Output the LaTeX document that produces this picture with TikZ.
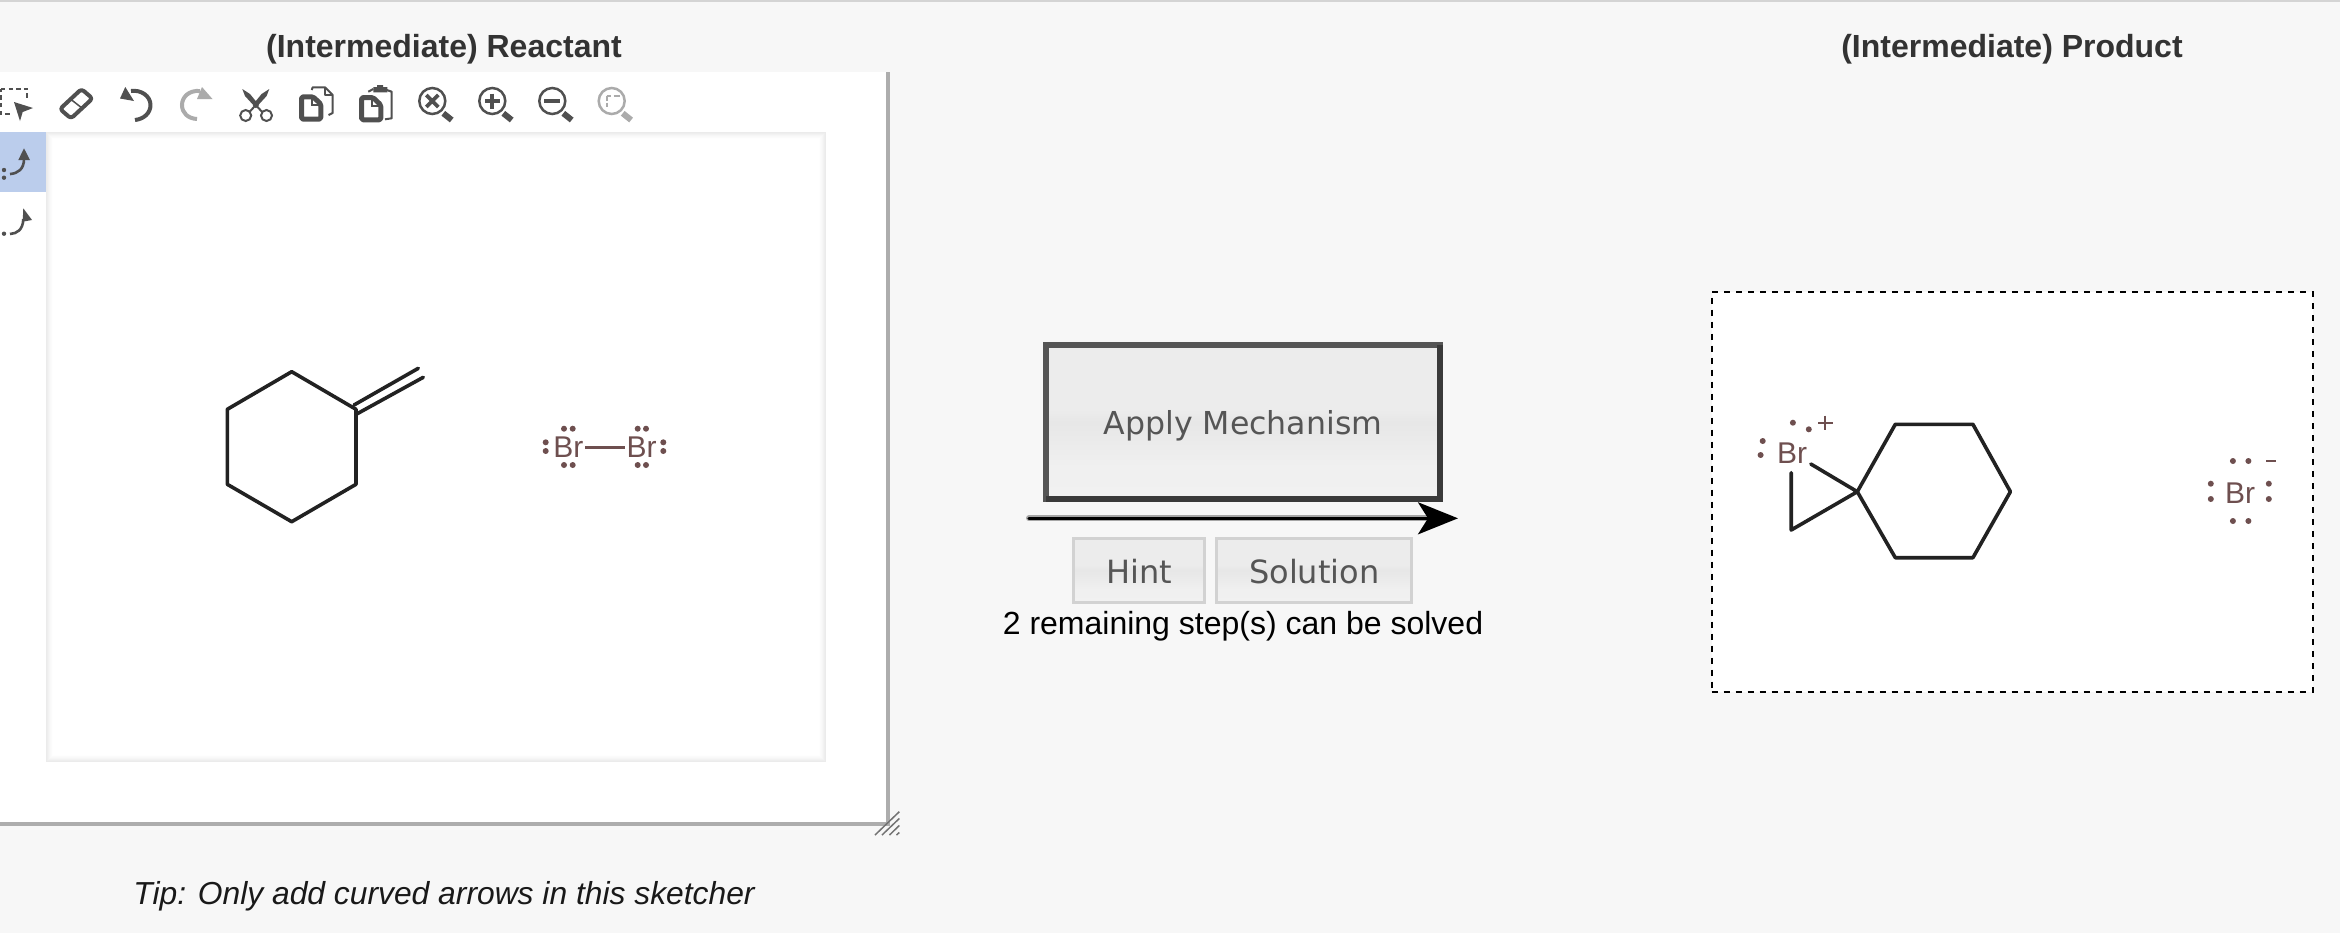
\documentclass[tikz,border=0pt]{standalone}
\usepackage{fontspec}
\setmainfont{Liberation Sans}
\newfontfamily\vfont{DejaVu Sans}
\usetikzlibrary{arrows.meta}
\definecolor{pagebg}{HTML}{F7F7F7}
\definecolor{topline}{HTML}{D4D4D4}
\definecolor{titlec}{HTML}{333333}
\definecolor{panelb}{HTML}{ADADAD}
\definecolor{icon}{HTML}{505050}
\definecolor{icong}{HTML}{ABABAB}
\definecolor{sel}{HTML}{BBCDEC}
\definecolor{brc}{HTML}{6E4F4F}
\definecolor{bond}{HTML}{222222}
\definecolor{btnt}{HTML}{555555}
\definecolor{btnl}{HTML}{555555}
\definecolor{btnd}{HTML}{3A3A3A}
\definecolor{btnb}{HTML}{D2D2D2}
\pgfdeclareverticalshading{btnshade}{100bp}{
 color(0bp)=(black!5.5); color(25bp)=(black!5.5); color(36bp)=(black!6); color(50bp)=(black!9.5); color(54bp)=(black!7.5); color(100bp)=(black!7.5)}
\tikzset{
 x=0.5pt,y=-0.5pt,
 tx/.style={inner sep=0pt,outer sep=0pt,anchor=base,font=\fontsize{16}{18}\selectfont},
 titlet/.style={tx,text=titlec,font=\fontsize{16}{18}\selectfont\bfseries},
 btn/.style={shade,shading=btnshade,draw=btnb,line width=1.5pt,outer sep=0pt,inner sep=0pt,text=btnt},
 btnmain/.style={shade,shading=btnshade,draw=btnl,line width=2.75pt,outer sep=0pt,inner sep=0pt},
 bondl/.style={draw=bond,line width=1.8pt,line cap=round,line join=round},
 brl/.style={text=brc,inner sep=1pt,outer sep=0pt,font=\fontsize{15}{17}\selectfont},
 ic/.style={draw=icon,line width=2pt,line join=round},
 curv/.style={draw=icon,line width=1.3pt},
 pageic/.style={draw=icon,line width=2.5pt,fill=white,line join=round,rounded corners=0.8pt},
 thinic/.style={draw=icon,line width=1pt,line join=round},
}
\newcommand{\lensicon}[3]{%
 \begin{scope}[shift={(#1,101)}]
  \draw[draw=#2,line width=1.25pt] (0,0) circle (13);
  \draw[draw=#2,line width=3pt] (11,12.3) -- (19.4,19);
  #3
 \end{scope}}
\begin{document}
\begin{tikzpicture}
\useasboundingbox (0,0) rectangle (2340,933);
\fill[pagebg] (0,0) rectangle (2340,933);
\draw[topline,line width=1pt] (0,0.5) -- (2340,0.5);

% titles
\node[titlet] (t1) at (444,57) {(Intermediate) Reactant};
\node[titlet] (t2) at (2012,57) {(Intermediate) Product};
\node[tx,font=\fontsize{15.9}{18}\selectfont\itshape,text=black!90] (tip) at (444,904.5) {Tip: Only add curved arrows in this sketcher};

% sketcher panel
\fill[white] (0,72) rectangle (886,822);
\fill[panelb] (886,72) rectangle (890,826);
\fill[panelb] (0,822) rectangle (890,826);
% resize handle
\foreach \a/\b/\c/\d in {875/835/899.3/811.7, 882/835/899.3/818.5, 889.5/835/899.3/825.5, 896.5/835/899.3/832.5}
  \draw[draw=black!55,line width=0.75pt] (\a,\b) -- (\c,\d);
% canvas with soft inner edge
\fill[black!8] (46,132) rectangle (826,762);
\foreach \i/\s in {1/6.5,2/5,3/3.5,4/2.5,5/1.5,6/0.5,7/0}
  \fill[black!\s] (46+\i,132+\i) rectangle (826-\i,762-\i);

% left tools
\fill[sel] (0,132) rectangle (46,192);
\fill[icon] (4,170) circle (2.2) (4,177.7) circle (2.2) (4,233.7) circle (2.2);
\draw[curv] (10,174) .. controls (18,173.5) and (24,169) .. (24,159);
\fill[icon] (18.3,160) -- (30,160) -- (24,148.3) -- cycle;
\draw[curv] (10,234) .. controls (17,233.5) and (23,230) .. (23.3,219);
\fill[icon] (23.3,208.3) -- (32,220) -- (22.7,221.7) -- cycle;

% toolbar: select
\draw[draw=icon,line width=1pt,dash pattern=on 2.2pt off 1.6pt] (1,89) -- (27,89) -- (27,114) -- (1,114) -- cycle;
\fill[white] (12,100) rectangle (36,124);
\fill[icon] (14,102) -- (33,108) -- (22.7,112) -- (20,121) -- cycle;
% eraser
\draw[ic,rounded corners=1.5pt] (81.5,89) -- (92.5,98.5) -- (71,118.5) -- (60,109) -- cycle;
\draw[draw=icon,line width=0.75pt] (71.7,100) -- (82.3,108.3);
% undo
\draw[ic] (131,91) .. controls (141,89.5) and (150.5,96) .. (150.5,105) .. controls (150.5,113) and (144,119) .. (135,120);
\fill[icon] (120,98.5) -- (125.3,87) -- (134,101) -- cycle;
% redo
\draw[draw=icong,line width=2pt] (200,91) .. controls (189,90) and (182,97) .. (182,105) .. controls (182,113) and (188,118.5) .. (197,119);
\fill[icong] (202,87) -- (212.5,99) -- (197,99) -- cycle;
% scissors
\fill[icon] (242.3,89) -- (250,94) -- (259,105) -- (256,108) -- (245,96) -- cycle;
\fill[icon] (269.3,89) -- (261.6,94) -- (252.6,105) -- (255.6,108) -- (266.6,96) -- cycle;
\draw[draw=icon,line width=1pt] (255.8,105) -- (249,112.5) (255.8,105) -- (262.6,112.5);
\draw[draw=icon,line width=1pt] (245.7,115.5) circle (5.5) (266.5,115.5) circle (5.5);
% copy
\draw[thinic] (311.7,90) -- (312.7,87.3) -- (325,87.3) -- (332.7,95) -- (332.7,113) -- (328.5,115);
\draw[thinic] (325,87.3) -- (325,95) -- (332.7,95);
\draw[pageic] (301.5,96.8) -- (313,96.8) -- (320.8,104) -- (320.8,119.2) -- (301.5,119.2) -- cycle;
\draw[draw=icon,line width=1pt] (312,97) -- (312,105) -- (320,105);
% paste
\draw[thinic] (386.7,90) -- (391.7,91.7) -- (391.7,118.3) -- (385,119.3);
\draw[thinic] (368.3,91.7) -- (373.3,89);
\fill[icon] (373.3,87) rectangle (387.3,92.3) (377,85) rectangle (383,88);
\draw[pageic] (361.5,97.5) -- (373,97.5) -- (380.8,105) -- (380.8,119.8) -- (361.5,119.8) -- cycle;
\draw[draw=icon,line width=1pt] (372,98) -- (372,106) -- (380,106);
% lenses
\lensicon{432.3}{icon}{\draw[draw=icon,line width=1.9pt] (-6,-6) -- (6,6) (-6,6) -- (6,-6);}
\lensicon{492.3}{icon}{\draw[draw=icon,line width=1.9pt] (-7.5,0) -- (7.5,0) (0,-7.5) -- (0,7.5);}
\lensicon{552.3}{icon}{\draw[draw=icon,line width=2pt] (-8,0) -- (8,0);}
\lensicon{611.7}{icong}{\draw[draw=icong,line width=1pt] (-5,-5.5) -- (-1,-5.5) (2,-5.5) -- (8,-5.5) (-5,-5.5) -- (-5,-0.5) (-5,1.5) -- (-5,6);}

% reactant: methylenecyclohexane
\foreach \n/\p in {a1/{291.7,371.7},a2/{356,409.3},a3/{356,484.3},a4/{291.7,521.7},a5/{227.3,484.3},a6/{227.3,409.3},
 d1s/{354,405},d1e/{418.3,368.3},d2s/{356.7,414},d2e/{423.3,377.3}}
  \coordinate (\n) at (\p);
\draw[bondl] (a1) -- (a2) -- (a3) -- (a4) -- (a5) -- (a6) -- cycle;
\draw[bondl] (d1s) -- (d1e) (d2s) -- (d2e);

% reactant: Br-Br
\node[brl] (br1) at (568.3,447.3) {Br};
\node[brl] (br2) at (641.7,447.3) {Br};
\draw[draw=brc,line width=1.3pt] (br1.east) -- (br2.west);
\foreach \x/\y in {564/428.7,572.7/428.7,564/465,572.7/465,545.7/442.3,545.7/451,
 637.7/428.7,646/428.7,637.7/465,646/465,663.3/442.3,663.3/451}
  \fill[brc] (\x,\y) circle (3);

% centre controls
\node[btnmain,minimum width=197pt,minimum height=77pt] (apply) at (1243,422) {};
\draw[draw=btnd,line width=2.75pt] (apply.north east) -- (apply.south east) -- (apply.south west);
\node[tx,text=btnt,font=\vfont\fontsize{15.8}{18}\selectfont] (applyt) at (1243,434.5) {Apply Mechanism};
\coordinate (rs) at (1029,518.3);
\coordinate (re) at (1458,518.3);
\draw[draw=black!35,line width=3pt,line cap=round] (rs) -- ([xshift=-10pt]re);
\draw[draw=black,line width=1.7pt,line cap=round,-{Stealth[length=20pt,width=16pt,inset=5pt]}] (rs) -- (re);
\node[btn,minimum width=65.2pt,minimum height=32.3pt] (hint) at (1139,570.5) {};
\node[btn,minimum width=97.5pt,minimum height=32.3pt] (sol) at (1314.3,570.5) {};
\node[tx,text=btnt,font=\vfont\fontsize{16}{18}\selectfont] (hintt) at (1139,583.3) {Hint};
\node[tx,text=btnt,font=\vfont\fontsize{16}{18}\selectfont] (solt) at (1314.3,583.3) {Solution};
\node[tx,text=black] (rem) at (1243,634) {2 remaining step(s) can be solved};

% product box
\node[draw=black,fill=white,line width=1pt,dash pattern=on 3pt off 3pt,outer sep=0pt,inner sep=0pt,minimum width=300.5pt,minimum height=200pt] (pbox) at (2012,491.5) {};
\foreach \n/\p in {b1/{1895.3,424.3},b2/{1972.9,424.3},b3/{2010.4,491.7},b4/{1972.9,557.7},b5/{1895.3,557.7},b6/{1857.3,491.7},
 c1/{1810.8,464},c2/{1791.2,472.7},c3/{1791.2,530}}
  \coordinate (\n) at (\p);
\draw[bondl] (b1) -- (b2) -- (b3) -- (b4) -- (b5) -- (b6) -- cycle;
\draw[bondl] (c1) -- (b6) -- (c3) -- (c2);
\node[brl] (br3) at (1792,453.3) {Br};
\node[brl] (br4) at (2240.2,493.3) {Br};
\foreach \x/\y in {1792.9/422.7,1808.8/429.3,1762.7/441,1760.6/455,
 2232.9/461,2248.4/461,2210.8/483.7,2210.8/499,2268.8/483.7,2268.8/499,2232.9/521,2248.4/521}
  \fill[brc] (\x,\y) circle (3);
\draw[draw=brc,line width=1pt] (1818,422.7) -- (1832.5,422.7) (1825.2,415.5) -- (1825.2,430);
\draw[draw=brc,line width=1pt] (2266,461) -- (2276,461);
\end{tikzpicture}
\end{document}
